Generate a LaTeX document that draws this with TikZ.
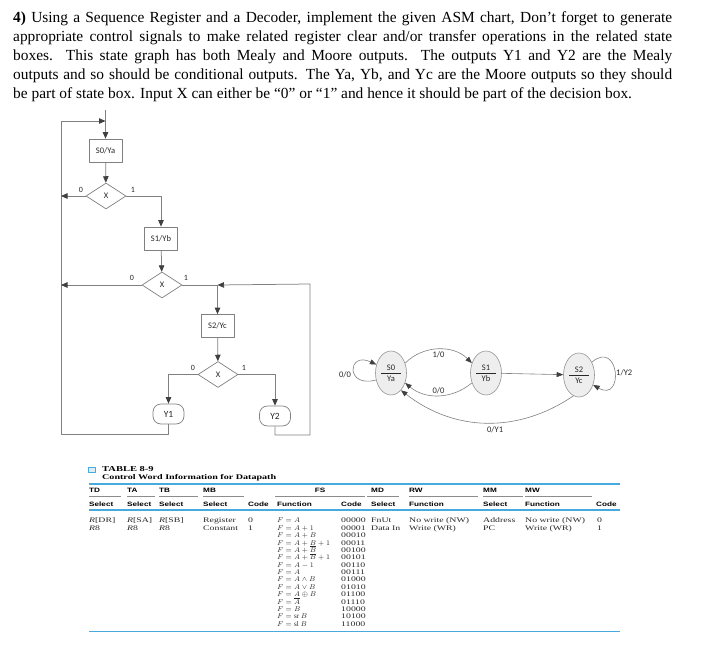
\documentclass[tikz,border=0pt]{standalone}
\usepackage{fontspec}
\setmainfont{Liberation Serif}
\newfontfamily\chartfont{Carlito}
\newfontfamily\tabserif[FakeStretch=1.4]{Liberation Serif}
\newfontfamily\tabsans[FakeStretch=1.3]{Liberation Sans}
\usetikzlibrary{arrows.meta,shapes.geometric,positioning,calc}
\definecolor{flowgray}{RGB}{128,128,128}
\definecolor{tipgray}{RGB}{64,64,64}
\definecolor{inkgray}{RGB}{40,40,40}
\definecolor{statefill}{RGB}{238,238,238}
\definecolor{stateline}{RGB}{150,150,150}
\definecolor{tableblue}{RGB}{70,170,222}
\definecolor{rulegray}{RGB}{140,140,140}

\tikzset{
  flow/.style={draw=flowgray, line width=0.75pt},
  flowarrow/.style={flow, -{Triangle[length=6.5pt,width=5.5pt,color=tipgray]}},
  statebox/.style={draw=flowgray, line width=0.7pt, minimum width=33pt, minimum height=23pt,
    inner sep=0pt, text=inkgray, font=\chartfont\fontsize{8.5}{9}\selectfont},
  decision/.style={diamond, draw=flowgray, line width=0.7pt, minimum width=40pt, minimum height=26pt,
    inner sep=0pt, text=inkgray, font=\chartfont\fontsize{8.5}{9}\selectfont},
  condbox/.style={draw=flowgray, line width=0.7pt, rounded corners=8pt, minimum width=31pt,
    minimum height=20pt, inner sep=0pt, text=inkgray, font=\chartfont\fontsize{9.5}{10}\selectfont},
  branchlabel/.style={inner sep=0pt, text=inkgray, font=\chartfont\fontsize{8}{9}\selectfont},
  gstate/.style={ellipse, draw=stateline, fill=statefill, line width=0.6pt, minimum width=31pt,
    minimum height=44pt, inner sep=0pt},
  gtext/.style={inner sep=0pt, text=inkgray, font=\chartfont\fontsize{8.5}{9}\selectfont},
  garrow/.style={draw=flowgray, line width=0.6pt, -{Triangle[length=6.5pt,width=5pt,color=tipgray]}},
  headtext/.style={anchor=base west, inner sep=0pt, font=\tabsans\bfseries\fontsize{6.3}{7}\selectfont},
  celltext/.style={anchor=base west, inner sep=0pt, text=inkgray, font=\tabserif\fontsize{7}{7}\selectfont},
  mathcell/.style={anchor=base west, inner sep=0pt, text=inkgray, font=\fontsize{7.1}{7.1}\selectfont},
}

\begin{document}
\begin{tikzpicture}[x=1pt, y=1pt, line join=round]
\useasboundingbox (0,0) rectangle (704,-656);
\fill[white] (0,0) rectangle (704,-656);

% ---------- task text ----------
\node[anchor=north west, inner sep=0pt, text width=659pt, align=justify,
  font=\fontsize{15.4}{19}\selectfont] (task) at (13,-11.5)
  {\hyphenpenalty=10000 \textbf{4)} Using a Sequence Register and a Decoder, implement the given ASM chart, Don’t forget to generate\linebreak
   appropriate control signals to make related register clear and/or transfer operations in the related state\linebreak
   boxes. This state graph has both Mealy and Moore outputs. The outputs Y1 and Y2 are the Mealy\linebreak
   outputs and so should be conditional outputs. The Ya, Yb, and Yc are the Moore outputs so they should\linebreak
   be part of state box. Input X can either be “0” or “1” and hence it should be part of the decision box.};

% ---------- ASM chart ----------
\node[statebox] (s0) at (105.5,-150.5) {S0/Ya};
\node[decision] (d0) at (106,-196) {X};
\node[statebox] (s1) at (161,-238.5) {S1/Yb};
\node[decision] (d1) at (162,-285) {X};
\node[statebox] (s2) at (217.5,-326) {S2/Yc};
\node[decision] (d2) at (218,-374.5) {X};
\node[condbox] (y1) at (168.5,-414) {Y1};
\node[condbox] (y2) at (275,-416) {Y2};

\coordinate (entry) at (105.5,-110);
\coordinate (loopbl) at (61,-434);
\coordinate (looptl) at (61,-121);
\coordinate (join) at (217.5,-285);
\coordinate (loopbr) at (310,-435);
\coordinate (looptr) at (310,-284);

\draw[flowarrow] (entry) -- (s0);
\draw[flowarrow] (y1) |- (loopbl) -- (looptl) -- (looptl -| s0);
\draw[flowarrow] (s0) -- (d0);
\draw[flowarrow] (d0.west) -- (d0.west -| looptl);
\draw[flowarrow] (d0.east) -| (s1);
\draw[flowarrow] (s1) -- (d1);
\draw[flowarrow] (d1.west) -- (d1.west -| looptl);
\draw[flow] (d1.east) -- (join);
\draw[flowarrow] (join) -- (s2);
\draw[flowarrow] (y2) |- (loopbr) -- (looptr) -- (join);
\draw[flowarrow] (s2) -- (d2);
\draw[flowarrow] (d2.west) -| (y1);
\draw[flowarrow] (d2.east) -| (y2);

\node[branchlabel] (d0zero) at (81,-190) {0};
\node[branchlabel] (d0one) at (133,-190) {1};
\node[branchlabel] (d1zero) at (132,-278) {0};
\node[branchlabel] (d1one) at (186,-278) {1};
\node[branchlabel] (d2zero) at (193,-368) {0};
\node[branchlabel] (d2one) at (244,-368) {1};

% ---------- state graph ----------
\foreach \n/\x/\y/\s/\o in {g0/391/-373/S0/Ya, g1/486/-373/S1/Yb, g2/579/-375/S2/Yc} {
  \node[gstate] (\n) at (\x,\y) {};
  \node[gtext] (\n top) at ($(\n)+(0,5)$) {\s};
  \node[gtext] (\n bot) at ($(\n)+(0,-5.5)$) {\o};
  \draw[inkgray, line width=0.4pt] ($(\n)+(-10,0)$) -- ($(\n)+(10,0)$);
}

\draw[garrow] (g0.205) .. controls +(195:32) and +(155:32) .. (g0.150);
\node[gtext] (loop00) at (345,-375) {0/0};
\draw[garrow] (g0.35) to[bend left=45] node[gtext, below=1.5pt] (lab10) {1/0} (g1.145);
\draw[garrow] (g1.215) to[bend left=40] node[gtext, above=1.5pt] (lab00) {0/0} (g0.325);
\draw[garrow] (g1) -- (g2);
\draw[garrow] (g2.45) .. controls +(40:36) and +(-30:36) .. (g2.-35);
\node[gtext, anchor=west] (loopy2) at (616,-373) {1/Y2};
\draw[garrow] (g2.255) to[bend left=36] node[gtext, below=3pt, pos=0.45] (lab0y1) {0/Y1} (g0.300);

% ---------- table ----------
\node[draw=tableblue, fill=tableblue!20, line width=1pt, minimum width=7pt, minimum height=5pt,
  inner sep=0pt] (icon) at (92,-470) {};
\node[anchor=base west, inner sep=0pt, font=\tabserif\bfseries\fontsize{7.5}{8}\selectfont]
  (tabnum) at (102,-471.5) {TABLE 8-9};
\node[anchor=base west, inner sep=0pt, font=\tabserif\bfseries\fontsize{7.2}{8}\selectfont]
  (tabcap) at (102,-479.5) {Control Word Information for Datapath};

\draw[tableblue, line width=1.3pt] (89,-484) -- (620,-484);
\draw[tableblue, line width=1.3pt] (89,-510) -- (620,-510);
\draw[tableblue, line width=1.3pt] (89,-631.5) -- (620,-631.5);
\foreach \a/\b in {89/121, 127/155, 159/198, 203/244, 275/365, 367/399, 409/478, 483/523, 525/592}
  \draw[rulegray, line width=0.9pt] (\a,-496.5) -- (\b,-496.5);

\foreach \x/\t [count=\k] in {89/TD, 127/TA, 159/TB, 203/MB, 371/MD, 409/RW, 483/MM, 525/MW}
  \node[headtext] (ha\k) at (\x,-492.5) {\t};
\node[headtext, anchor=base] (hafs) at (320,-492.5) {FS};
\foreach \x/\t [count=\k] in {89/Select, 127/Select, 159/Select, 203/Select, 248/Code, 277/Function,
    341/Code, 371/Select, 409/Function, 483/Select, 525/Function, 596/Code}
  \node[headtext] (hb\k) at (\x,-506.5) {\t};

\foreach \x/\t [count=\k] in {89/\textit{R}[DR], 127/\textit{R}[SA], 159/\textit{R}[SB], 203/Register,
    248/0, 341/00000, 371/FnUt, 409/No write (NW), 483/Address, 525/No write (NW), 597/0}
  \node[celltext] (ra\k) at (\x,-522.5) {\t};
\node[mathcell] (fsa) at (277,-522.5) {$F = A$};
\foreach \x/\t [count=\k] in {89/\textit{R}8, 127/\textit{R}8, 159/\textit{R}8, 203/Constant,
    248/1, 371/Data In, 409/Write (WR), 483/PC, 525/Write (WR), 597/1}
  \node[celltext] (rb\k) at (\x,-530.5) {\t};

\foreach \f/\c [count=\i from 0] in {{$F = A + 1$}/00001, {$F = A + B$}/00010, {$F = A + B + 1$}/00011,
    {$F = A + \overline{B}$}/00100, {$F = A + \overline{B} + 1$}/00101, {$F = A - 1$}/00110,
    {$F = A$}/00111, {$F = A \wedge B$}/01000, {$F = A \vee B$}/01010, {$F = A \oplus B$}/01100,
    {$F = \overline{A}$}/01110, {$F = B$}/10000, {$F = \mathrm{sr}\ B$}/10100, {$F = \mathrm{sl}\ B$}/11000} {
  \node[mathcell] (fs\i) at (277,-530.5-7.35*\i) {\f};
  \node[celltext] (fc\i) at (341,-530.5-7.35*\i) {\c};
}

\end{tikzpicture}
\end{document}
